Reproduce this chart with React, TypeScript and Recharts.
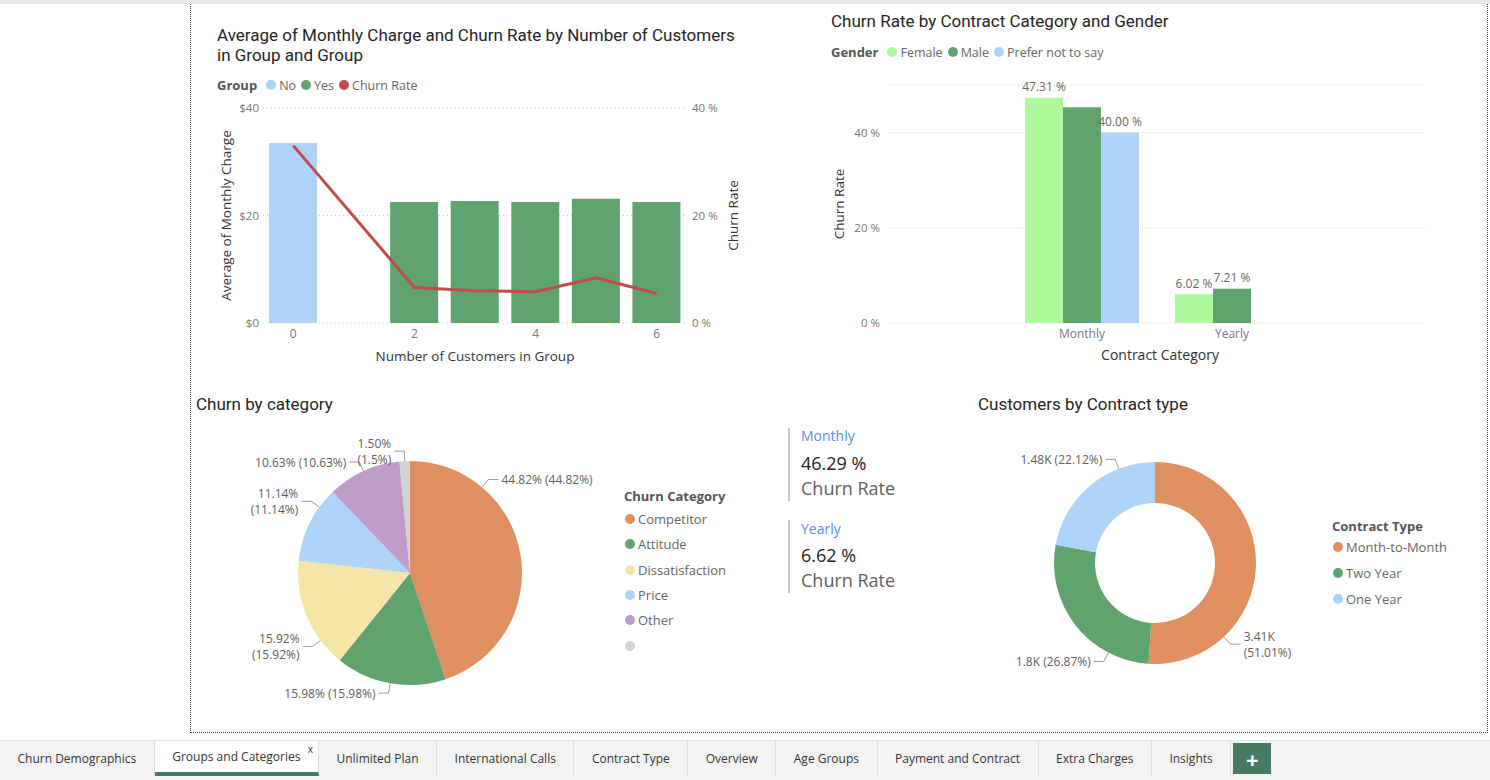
import React from 'react';
import { ComposedChart, BarChart, Bar, Line, XAxis, YAxis, CartesianGrid, LabelList, PieChart, Pie, Cell } from 'recharts';

// ---- data ----
const groupSizes = [0, 1, 2, 3, 4, 5, 6];
const chargeNo = [33.5, null, null, null, null, null, null];
const chargeYes = [null, null, 22.5, 22.7, 22.5, 23.1, 22.5];
const churnByGroup = [0.33, null, 0.066, 0.06, 0.058, 0.084, 0.055];

const contractCategories = ['Monthly', 'Yearly'];
const churnFemale = [0.4731, 0.0602];
const churnMale = [0.4532, 0.0721];
const churnPrefer = [0.4, 0.0];
const maleLabelShown = [false, true];

const churnCategories = ['Competitor', 'Attitude', 'Dissatisfaction', 'Price', 'Other', ''];
const churnShares = [44.82, 15.98, 15.92, 11.14, 10.63, 1.5];

const contractTypes = ['Month-to-Month', 'Two Year', 'One Year'];
const contractCustomers = [3411, 1797, 1479];

const cardLabels = ['Monthly', 'Yearly'];
const cardRates = [46.29, 6.62];

const tabs = ['Churn Demographics', 'Groups and Categories', 'Unlimited Plan', 'International Calls', 'Contract Type', 'Overview', 'Age Groups', 'Payment and Contract', 'Extra Charges', 'Insights'];
const activeTab = 1;

// ---- style ----
const BODY = "'Segoe UI', 'Open Sans', sans-serif";
const TITLE = "Roboto, 'Open Sans', sans-serif";
const BLUE = '#AED3F8';
const GREEN = '#61A36E';
const LIGHTGREEN = '#ADFA9C';
const RED = '#C04B4B';
const ORANGE = '#E08F61';
const churnColors = [ORANGE, GREEN, '#F4E6A6', BLUE, '#C09CCB', '#D2D2D2'];
const contractColors = [ORANGE, GREEN, BLUE];
const tick = { fontSize: 11.5, fill: '#777', fontFamily: BODY };
const axisTitle = { fontSize: 13.5, fill: '#333', fontFamily: BODY };

// label placement tweaks (clock degrees from 12 o'clock), null = slice middle
const churnLabelAngle = [40, null, 233, 306, null, null];
const churnLabelWrap = [false, false, true, true, false, true];
const contractLabelAngle = [137, 207.5, 339];
const contractLabelWrap = [true, false, false];

const groupData = groupSizes.map((s, i) => ({ size: s, no: chargeNo[i], yes: chargeYes[i], churn: churnByGroup[i] }));
const genderData = contractCategories.map((c, i) => ({
  category: c, female: churnFemale[i], male: churnMale[i], prefer: churnPrefer[i],
  maleLabel: maleLabelShown[i] ? churnMale[i] : null,
}));
const churnData = churnCategories.map((c, i) => ({ name: c, value: churnShares[i] }));
const contractData = contractTypes.map((c, i) => ({ name: c, value: contractCustomers[i] }));

const trim = (v: number) => String(Number(v.toFixed(2)));
const pctLabel = (v: number) => `${(v * 100).toFixed(2)} %`;

const BarTopLabel = (p: any) => {
  if (p.value === null || p.value === undefined) return null;
  return (
    <text x={p.x + p.width / 2} y={p.y - 11} textAnchor="middle" dominantBaseline="central" fontSize={12} fill="#666" fontFamily={BODY}>
      {pctLabel(p.value)}
    </text>
  );
};

const T = ({ x, y, size = 13, color = '#252423', weight = 400, font = BODY, children }: any) => (
  <div style={{ position: 'absolute', left: x, top: y - size * 0.7, fontSize: size, lineHeight: `${size * 1.4}px`, color, fontWeight: weight, fontFamily: font, whiteSpace: 'nowrap' }}>
    {children}
  </div>
);

const Dot = ({ color }: { color: string }) => (
  <span style={{ display: 'inline-block', width: 10, height: 10, borderRadius: 5, background: color, marginRight: 3 }} />
);

const HLegend = ({ x, y, title, items }: any) => (
  <div style={{ position: 'absolute', left: x, top: y - 9, height: 18, display: 'flex', alignItems: 'center', fontSize: 12.5, fontFamily: BODY, color: '#666', whiteSpace: 'nowrap' }}>
    <span style={{ fontWeight: 700, color: '#555', marginRight: 9, fontSize: 13 }}>{title}</span>
    {items.map((it: any) => (
      <span key={it.label} style={{ display: 'flex', alignItems: 'center', marginRight: 5 }}>
        <Dot color={it.color} />{it.label}
      </span>
    ))}
  </div>
);

const VLegend = ({ x, y, title, items, gap, first }: any) => (
  <div>
    <T x={x} y={y} weight={700} color="#555">{title}</T>
    {items.map((it: any, i: number) => (
      <div key={i} style={{ position: 'absolute', left: x + 1, top: y + first + i * gap - 9, height: 18, display: 'flex', alignItems: 'center', fontSize: 13, fontFamily: BODY, color: '#666', whiteSpace: 'nowrap' }}>
        <Dot color={it.color} />{it.label}
      </div>
    ))}
  </div>
);

const makeLeaderLabel = (angles: (number | null)[], wraps: boolean[], texts: (p: any) => [string, string]) => (p: any) => {
  const clock = angles[p.index] ?? 90 - p.midAngle;
  const a = ((90 - clock) * Math.PI) / 180;
  const r = p.outerRadius;
  const x0 = p.cx + r * Math.cos(a);
  const y0 = p.cy - r * Math.sin(a);
  const x1 = p.cx + (r + 10) * Math.cos(a);
  const y1 = p.cy - (r + 10) * Math.sin(a);
  const right = Math.cos(a) >= 0;
  const x2 = x1 + (right ? 10 : -10);
  const [t1, t2] = texts(p);
  const lines = wraps[p.index] ? [t1, t2] : [`${t1} ${t2}`];
  return (
    <g>
      <polyline points={`${x0},${y0} ${x1},${y1} ${x2},${y1}`} fill="none" stroke="#999" strokeWidth={1} />
      {lines.map((l, i) => (
        <text key={i} x={x2 + (right ? 3 : -3)} y={y1 + (i - (lines.length - 1) / 2) * 16} textAnchor={right ? 'start' : 'end'}
          dominantBaseline="central" fontSize={12} fill="#605E5C" fontFamily={BODY}>{l}</text>
      ))}
    </g>
  );
};

const churnLabel = makeLeaderLabel(churnLabelAngle, churnLabelWrap, (p) => [`${p.value.toFixed(2)}%`, `(${trim(p.percent * 100)}%)`]);
const contractLabel = makeLeaderLabel(contractLabelAngle, contractLabelWrap, (p) => [`${trim(p.value / 1000)}K`, `(${(p.percent * 100).toFixed(2)}%)`]);

const noMargin = { top: 0, right: 0, bottom: 0, left: 0 };

export default function App() {
  return (
    <div style={{ position: 'fixed', left: 0, top: 0, width: 1490, height: 780, background: '#fff', overflow: 'hidden', fontFamily: BODY }}>
      <div style={{ position: 'absolute', left: 0, top: 0, width: 1490, height: 4, background: '#e9e9e9' }} />
      <div style={{ position: 'absolute', left: 190, top: 4, width: 1296, height: 728, borderLeft: '1px dotted #444', borderRight: '1px dotted #444', borderBottom: '1px dotted #444' }} />

      {/* chart 1 */}
      <T x={217} y={36} size={17} font={TITLE}>Average of Monthly Charge and Churn Rate by Number of Customers</T>
      <T x={217} y={56} size={17} font={TITLE}>in Group and Group</T>
      <HLegend x={217} y={85} title="Group" items={[{ label: 'No', color: BLUE }, { label: 'Yes', color: GREEN }, { label: 'Churn Rate', color: RED }]} />
      <div style={{ position: 'absolute', left: 190, top: 95 }}>
        <ComposedChart width={560} height={275} data={groupData} margin={{ top: 13, right: 0, bottom: 7, left: 0 }}>
          <CartesianGrid vertical={false} stroke="#c8c8c8" strokeDasharray="1 3" yAxisId="left" />
          <XAxis dataKey="size" interval={1} tickLine={false} axisLine={false} tick={{ ...tick, fontSize: 12 }} tickSize={4} tickMargin={2} height={40}
            label={{ value: 'Number of Customers in Group', position: 'insideBottom', offset: 2, style: axisTitle }} />
          <YAxis yAxisId="left" domain={[0, 40]} ticks={[0, 20, 40]} tickFormatter={(v) => `$${v}`} tickLine={false} axisLine={false} tick={tick} width={73} tickSize={4} tickMargin={0}
            label={{ value: 'Average of Monthly Charge', angle: -90, position: 'insideLeft', offset: 36, style: { ...axisTitle, textAnchor: 'middle' } }} />
          <YAxis yAxisId="right" orientation="right" domain={[0, 0.4]} ticks={[0, 0.2, 0.4]} tickFormatter={(v) => `${Math.round(v * 100)} %`} tickLine={false} axisLine={false} tick={tick} width={63} tickSize={3} tickMargin={2}
            label={{ value: 'Churn Rate', angle: -90, position: 'insideRight', offset: 17, style: { ...axisTitle, textAnchor: 'middle' } }} />
          <Bar yAxisId="left" dataKey="no" stackId="g" fill={BLUE} barSize={48} isAnimationActive={false} />
          <Bar yAxisId="left" dataKey="yes" stackId="g" fill={GREEN} barSize={48} isAnimationActive={false} />
          <Line yAxisId="right" dataKey="churn" stroke={RED} strokeWidth={3} dot={false} connectNulls isAnimationActive={false} />
        </ComposedChart>
      </div>

      {/* chart 2 */}
      <T x={831} y={22} size={17} font={TITLE}>Churn Rate by Contract Category and Gender</T>
      <HLegend x={831} y={52} title="Gender" items={[{ label: 'Female', color: LIGHTGREEN }, { label: 'Male', color: GREEN }, { label: 'Prefer not to say', color: BLUE }]} />
      <div style={{ position: 'absolute', left: 800, top: 60 }}>
        <BarChart width={690} height={310} data={genderData} margin={{ top: 25, right: 60, bottom: 7, left: 0 }} barGap={0}>
          <CartesianGrid vertical={false} stroke="#c8c8c8" strokeDasharray="1 3" />
          <XAxis dataKey="category" padding={{ left: 117, right: 123 }} tickLine={false} axisLine={false} tick={{ ...tick, fontSize: 12 }} tickSize={4} tickMargin={2} height={40}
            label={{ value: 'Contract Category', position: 'insideBottom', offset: 3, style: { ...axisTitle, fontSize: 14 } }} />
          <YAxis domain={[0, 0.5]} ticks={[0, 0.2, 0.4]} tickFormatter={(v) => `${Math.round(v * 100)} %`} tickLine={false} axisLine={false} tick={tick} width={90} tickSize={6} tickMargin={4}
            label={{ value: 'Churn Rate', angle: -90, position: 'insideLeft', offset: 39, style: { ...axisTitle, textAnchor: 'middle' } }} />
          <Bar dataKey="female" fill={LIGHTGREEN} barSize={38} isAnimationActive={false}>
            <LabelList dataKey="female" content={BarTopLabel} />
          </Bar>
          <Bar dataKey="male" fill={GREEN} barSize={38} isAnimationActive={false}>
            <LabelList dataKey="maleLabel" content={BarTopLabel} />
          </Bar>
          <Bar dataKey="prefer" fill={BLUE} barSize={38} isAnimationActive={false}>
            <LabelList dataKey="prefer" content={BarTopLabel} />
          </Bar>
        </BarChart>
      </div>

      {/* chart 3 */}
      <T x={196} y={405} size={17} font={TITLE}>Churn by category</T>
      <div style={{ position: 'absolute', left: 190, top: 390 }}>
        <PieChart width={560} height={340} margin={noMargin}>
          <Pie data={churnData} dataKey="value" cx={220} cy={183} outerRadius={112} startAngle={90} endAngle={-270} stroke="none"
            label={churnLabel} labelLine={false} isAnimationActive={false}>
            {churnData.map((d, i) => <Cell key={i} fill={churnColors[i]} />)}
          </Pie>
        </PieChart>
      </div>
      <VLegend x={624} y={496} title="Churn Category" first={23} gap={25.3} items={churnCategories.map((c, i) => ({ label: c, color: churnColors[i] }))} />

      {/* cards */}
      {cardLabels.map((c, i) => (
        <div key={c}>
          <div style={{ position: 'absolute', left: 788, top: 428 + i * 92, width: 2, height: 73, background: '#c8c8c8' }} />
          <T x={801} y={436 + i * 93} size={14} color="#5B8FDB">{c}</T>
          <T x={801} y={464 + i * 92} size={18} color="#252423">{cardRates[i].toFixed(2)} %</T>
          <T x={801} y={489 + i * 92} size={18} color="#605E5C">Churn Rate</T>
        </div>
      ))}

      {/* chart 4 */}
      <T x={978} y={405} size={17} font={TITLE}>Customers by Contract type</T>
      <div style={{ position: 'absolute', left: 960, top: 390 }}>
        <PieChart width={530} height={340} margin={noMargin}>
          <Pie data={contractData} dataKey="value" cx={195} cy={173} innerRadius={60} outerRadius={101} startAngle={90} endAngle={-270} stroke="none"
            label={contractLabel} labelLine={false} isAnimationActive={false}>
            {contractData.map((d, i) => <Cell key={i} fill={contractColors[i]} />)}
          </Pie>
        </PieChart>
      </div>
      <VLegend x={1332} y={526} title="Contract Type" first={21} gap={26} items={contractTypes.map((c, i) => ({ label: c, color: contractColors[i] }))} />

      {/* tabs */}
      <div style={{ position: 'absolute', left: 0, top: 740, width: 1490, height: 40, background: '#f3f3f3', borderTop: '1px solid #e3e3e3', display: 'flex', alignItems: 'flex-start' }}>
        {tabs.map((t, i) => (
          <div key={t} style={{
            position: 'relative', height: i === activeTab ? 31 : 35, padding: '0 17.5px', display: 'flex', alignItems: 'center', fontSize: 12, color: '#333',
            background: i === activeTab ? '#fff' : 'transparent', borderRight: '1px solid #dcdcdc', borderBottom: i === activeTab ? '4px solid #3f7b61' : 'none', whiteSpace: 'nowrap',
          }}>
            {t}
            {i === activeTab && <span style={{ position: 'absolute', right: 5, top: 1, fontSize: 10, color: '#333' }}>x</span>}
          </div>
        ))}
        <div style={{ marginLeft: 2, marginTop: 2, width: 38, height: 31, background: '#457b65', color: '#fff', fontSize: 22, fontWeight: 700, display: 'flex', alignItems: 'center', justifyContent: 'center' }}>+</div>
      </div>
    </div>
  );
}
